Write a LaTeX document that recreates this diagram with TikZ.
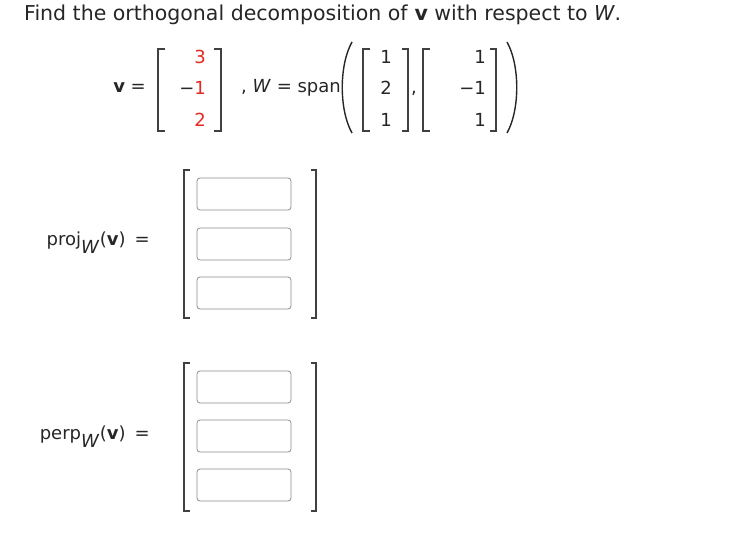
\documentclass[tikz,border=0pt]{standalone}
\usepackage{fontspec}
\setmainfont{DejaVu Sans}
\begin{document}
\begin{tikzpicture}[x=1pt,y=-1pt,
  txt/.style={inner sep=0pt,text=black!85,font=\fontsize{18}{20}\selectfont},
  red/.style={txt,text={rgb,255:red,230;green,40;blue,30}},
  brk/.style={draw=black!75,line width=1.1pt},
  ansbox/.style={draw=black!45,rounded corners=3pt,line width=0.8pt,minimum width=94pt,minimum height=32pt,inner sep=0pt}]
\useasboundingbox (0,0) rectangle (744,554);
\node[txt,anchor=west,font=\fontsize{20.5}{24}\selectfont] (title) at (24,15) {Find the orthogonal decomposition of \textbf{v} with respect to \emph{W}.};
\node[txt,anchor=east] (veq) at (146,88) {\textbf{v} =};
% v bracket
\draw[brk] (165,49) -- (158,49) -- (158,131) -- (165,131);
\draw[brk] (214,49) -- (221,49) -- (221,131) -- (214,131);
\node[red,anchor=east] (v1) at (206,57) {3};
\node[red,anchor=east] (v2) at (206,88) {\textcolor{black!85}{−}1};
\node[red,anchor=east] (v3) at (206,120) {2};
\node[txt,anchor=east] (span) at (341,88) {, \emph{W} = span};
% big parens
\draw[black!85,line width=1.4pt] (352,42) .. controls (339,65) and (339,110) .. (352,133);
\draw[black!85,line width=1.4pt] (507,42) .. controls (520,65) and (520,110) .. (507,133);
\draw[brk] (370,49) -- (363,49) -- (363,131) -- (370,131);
\draw[brk] (402,49) -- (408,49) -- (408,131) -- (402,131);
\node[txt] (a1) at (386,57) {1};
\node[txt] (a2) at (386,88) {2};
\node[txt] (a3) at (386,120) {1};
\node[txt] (cm) at (414,93) {,};
\draw[brk] (430,49) -- (423,49) -- (423,131) -- (430,131);
\draw[brk] (490,49) -- (496,49) -- (496,131) -- (490,131);
\node[txt,anchor=east] (b1) at (486,57) {1};
\node[txt,anchor=east] (b2) at (486,88) {−1};
\node[txt,anchor=east] (b3) at (486,120) {1};
% proj
\node[txt,anchor=east] (proj) at (150,243) {proj\textsubscript{\raisebox{-0.8ex}{\fontsize{18}{20}\selectfont\emph{W}}}(\textbf{v})\hspace{0.5em}=};
\draw[brk] (190,170) -- (184,170) -- (184,318) -- (190,318);
\draw[brk] (311,170) -- (316,170) -- (316,318) -- (311,318);
\node[ansbox] (p1) at (244,194) {};
\node[ansbox] (p2) at (244,244) {};
\node[ansbox] (p3) at (244,293) {};
% perp
\node[txt,anchor=east] (perp) at (150,437) {perp\textsubscript{\raisebox{-0.8ex}{\fontsize{18}{20}\selectfont\emph{W}}}(\textbf{v})\hspace{0.5em}=};
\draw[brk] (190,363) -- (184,363) -- (184,511) -- (190,511);
\draw[brk] (311,363) -- (316,363) -- (316,511) -- (311,511);
\node[ansbox] (q1) at (244,387) {};
\node[ansbox] (q2) at (244,436) {};
\node[ansbox] (q3) at (244,485) {};
\end{tikzpicture}
\end{document}
